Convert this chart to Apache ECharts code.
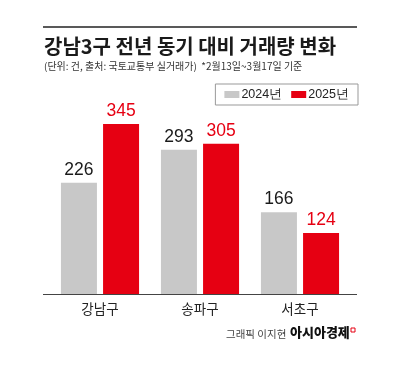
<!DOCTYPE html>
<html><head><meta charset="utf-8">
<script src="https://cdn.jsdelivr.net/npm/echarts@6/dist/echarts.min.js"></script>
<style>html,body{margin:0;padding:0;background:#fff}#c{width:400px;height:371px}</style>
</head><body><div id="c"></div>
<script>
const categories = ['강남구', '송파구', '서초구'];
const seriesNames = ['2024년', '2025년'];
const values2024 = [226, 293, 166];
const values2025 = [345, 305, 124];
const titleText = '강남3구 전년 동기 대비 거래량 변화';
const subText = '(단위: 건, 출처: 국토교통부 실거래가)  *2월13일~3월17일 기준';

const chart = echarts.init(document.getElementById('c'), null, {renderer: 'canvas'});
const numFont = '"Liberation Sans", Arial, sans-serif';
const krFont = '"Noto Sans CJK KR", "Noto Sans", sans-serif';
chart.setOption({
  backgroundColor: '#fff',
  animation: false,
  title: {
    text: titleText, subtext: subText, left: 39, top: 31, itemGap: 5,
    textStyle: {fontFamily: krFont, fontWeight: 'bold', fontSize: 20, color: '#1a1a1a'},
    subtextStyle: {fontFamily: krFont, fontSize: 10, color: '#333'}
  },
  legend: {
    data: seriesNames, right: 42, top: 84, itemWidth: 15, itemHeight: 7, itemGap: 9,
    borderColor: '#999', borderWidth: 1, padding: [4, 9, 4, 9],
    textStyle: {fontFamily: numFont, fontSize: 12.5, color: '#222', padding: [0, 0, 0, -3]},
    icon: 'rect'
  },
  grid: {left: 50, right: 50, top: 97, bottom: 77},
  xAxis: {
    type: 'category', data: categories,
    axisLine: {show: false}, axisTick: {show: false},
    axisLabel: {fontFamily: krFont, fontSize: 13.5, color: '#222', margin: 8}
  },
  yAxis: {type: 'value', min: 0, max: 400, show: false, splitLine: {show: false}},
  series: [
    {name: seriesNames[0], type: 'bar', data: values2024, barWidth: 36, barGap: '17%',
     itemStyle: {color: '#c8c8c8'},
     label: {show: true, position: 'top', distance: 4, fontFamily: numFont, fontSize: 17.5, color: '#1a1a1a'}},
    {name: seriesNames[1], type: 'bar', data: values2025, barWidth: 36,
     itemStyle: {color: '#e60012'},
     label: {show: true, position: 'top', distance: 4, fontFamily: numFont, fontSize: 17.5, color: '#e60012'}}
  ],
  graphic: [
    {type: 'line', shape: {x1: 43, y1: 27, x2: 357, y2: 27}, style: {stroke: '#222', lineWidth: 1.5}},
    {type: 'line', shape: {x1: 43, y1: 294.5, x2: 357, y2: 294.5}, style: {stroke: '#444', lineWidth: 1}},
    {type: 'text', left: 226, top: 329, style: {text: '그래픽 이지현', font: '10.5px "Noto Sans CJK KR"', fill: '#444'}},
    {type: 'text', left: 290, top: 326, style: {text: '아시아경제', font: '900 13px "Noto Sans CJK KR"', fill: '#111'}},
    {type: 'rect', shape: {x: 351, y: 328, width: 4, height: 4}, style: {fill: 'none', stroke: '#e60012', lineWidth: 1}}
  ]
});
</script></body></html>
